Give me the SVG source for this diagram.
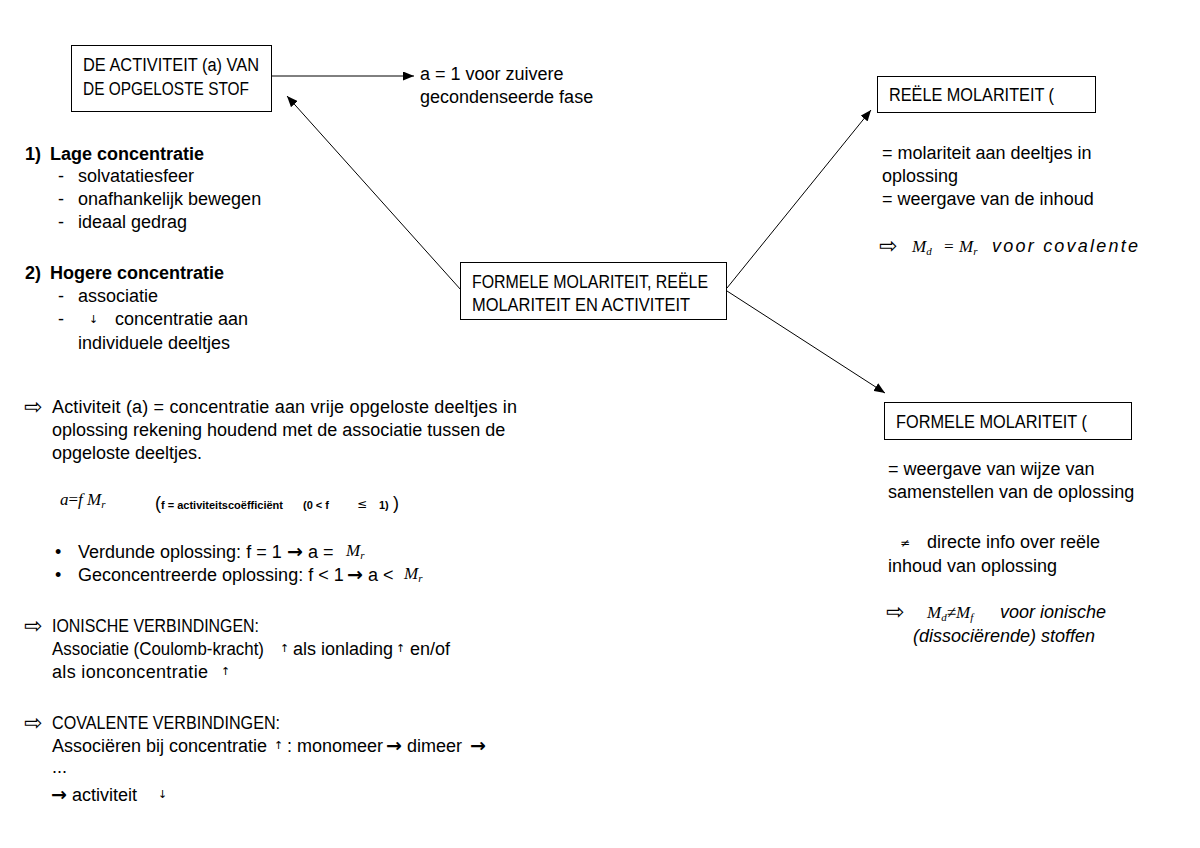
<svg xmlns="http://www.w3.org/2000/svg" width="1200" height="848" viewBox="0 0 1200 848">
<defs>
<style>
.t{font-family:"Liberation Sans",Arial,sans-serif;font-size:18px;fill:#000}
.b{font-weight:bold}
.i{font-style:italic}
.m{font-family:"Liberation Serif","Times New Roman",serif;font-style:italic;font-size:17px;fill:#000}
.sub{font-size:11px}
.s{font-family:"DejaVu Sans",sans-serif;fill:#000}
.dx{font-family:"DejaVu Sans",sans-serif;font-size:22px;fill:#000}
.ar{font-family:"DejaVu Sans",sans-serif;font-weight:bold;font-size:19px;fill:#000}
.sm{font-family:"DejaVu Sans",sans-serif;font-size:11px;fill:#000}
.box{fill:#fff;stroke:#000;stroke-width:1}
.p{font-family:"Liberation Sans",Arial,sans-serif;font-size:11px;font-weight:bold;fill:#000}
</style>
<marker id="ah" markerWidth="11" markerHeight="9" refX="11" refY="4.5" orient="auto" markerUnits="userSpaceOnUse">
<path d="M0,0 L11,4.5 L0,9 z" fill="#000"/>
</marker>
</defs>
<rect width="1200" height="848" fill="#fff"/>

<g id="connectors" stroke="#000" stroke-width="1" fill="none">
<line x1="272" y1="76" x2="414" y2="76" marker-end="url(#ah)"/>
<line x1="461" y1="290" x2="287" y2="96" marker-end="url(#ah)"/>
<line x1="727" y1="288" x2="871" y2="110" marker-end="url(#ah)"/>
<line x1="727" y1="291" x2="885" y2="393" marker-end="url(#ah)"/>
</g>

<g id="node-activiteit">
<rect class="box" x="71.5" y="45.5" width="200" height="66"/>
<text class="t" x="83" y="71" textLength="176" lengthAdjust="spacingAndGlyphs">DE ACTIVITEIT (a) VAN</text>
<text class="t" x="83" y="95" textLength="166" lengthAdjust="spacingAndGlyphs">DE OPGELOSTE STOF</text>
</g>

<g id="node-zuiver">
<text class="t" x="420" y="80">a = 1 voor zuivere</text>
<text class="t" x="420" y="103">gecondenseerde fase</text>
</g>

<g id="node-center">
<rect class="box" x="460.5" y="262.5" width="266" height="57"/>
<text class="t" x="472" y="288" textLength="236" lengthAdjust="spacingAndGlyphs">FORMELE MOLARITEIT, REËLE</text>
<text class="t" x="472" y="311" textLength="218" lengthAdjust="spacingAndGlyphs">MOLARITEIT EN ACTIVITEIT</text>
</g>

<g id="node-reeel">
<rect class="box" x="877.5" y="76.5" width="218" height="36"/>
<text class="t" x="889" y="101" textLength="165" lengthAdjust="spacingAndGlyphs">REËLE MOLARITEIT (</text>
<text class="t" x="882" y="159">= molariteit aan deeltjes in</text>
<text class="t" x="882" y="182">oplossing</text>
<text class="t" x="882" y="205">= weergave van de inhoud</text>
<text class="dx" x="879" y="253">⇨</text>
<text class="m" x="912" y="252">M<tspan class="sub" dy="3">d</tspan></text>
<text class="m" x="943" y="252" font-style="normal">=</text>
<text class="m" x="959" y="252">M<tspan class="sub" dy="3">r</tspan></text>
<text class="t i" x="992" y="252" textLength="146">voor covalente</text>
</g>

<g id="node-formeel">
<rect class="box" x="884.5" y="402.5" width="247" height="37"/>
<text class="t" x="896" y="428" textLength="191" lengthAdjust="spacingAndGlyphs">FORMELE MOLARITEIT (</text>
<text class="t" x="888" y="475">= weergave van wijze van</text>
<text class="t" x="888" y="498">samenstellen van de oplossing</text>
<text class="s" x="900" y="547" font-size="12">≠</text>
<text class="t" x="927" y="548">directe info over reële</text>
<text class="t" x="888" y="572">inhoud van oplossing</text>
<text class="dx" x="886" y="619">⇨</text>
<text class="m" x="927" y="618">M<tspan class="sub" dy="3">d</tspan><tspan dy="-3" font-style="normal">≠</tspan>M<tspan class="sub" dy="3">f</tspan></text>
<text class="t i" x="1000" y="618">voor ionische</text>
<text class="t i" x="913" y="642">(dissociërende) stoffen</text>
</g>

<g id="node-left">
<text class="t b" x="25" y="160">1)</text>
<text class="t b" x="50" y="160">Lage concentratie</text>
<text class="t" x="58" y="182">-</text><text class="t" x="78" y="182">solvatatiesfeer</text>
<text class="t" x="58" y="205">-</text><text class="t" x="78" y="205">onafhankelijk bewegen</text>
<text class="t" x="58" y="228">-</text><text class="t" x="78" y="228">ideaal gedrag</text>
<text class="t b" x="25" y="279">2)</text>
<text class="t b" x="50" y="279">Hogere concentratie</text>
<text class="t" x="58" y="302">-</text><text class="t" x="78" y="302">associatie</text>
<text class="t" x="58" y="325">-</text><text class="sm" x="89" y="323">↓</text><text class="t" x="115" y="325">concentratie aan</text>
<text class="t" x="78" y="349">individuele deeltjes</text>

<text class="dx" x="24" y="414">⇨</text>
<text class="t" x="52" y="413" textLength="465">Activiteit (a) = concentratie aan vrije opgeloste deeltjes in</text>
<text class="t" x="52" y="436">oplossing rekening houdend met de associatie tussen de</text>
<text class="t" x="52" y="459">opgeloste deeltjes.</text>

<text class="m" x="60" y="505">a<tspan font-style="normal">=</tspan>f M<tspan class="sub" dy="3">r</tspan></text>
<text class="t" x="155" y="509" font-size="16">(</text>
<text class="p" x="161" y="509">f = activiteitscoëfficiënt</text>
<text class="p" x="303" y="509">(0 &lt; f</text>
<text class="s" x="357" y="508" font-size="12">≤</text>
<text class="p" x="379" y="509">1)</text>
<text class="t" x="393" y="509" font-size="16">)</text>

<text class="t" x="55" y="558">•</text>
<text class="t" x="78" y="558">Verdunde oplossing: f = 1</text>
<text class="ar" x="287" y="558">→</text>
<text class="t" x="308" y="558">a =</text>
<text class="m" x="346" y="556">M<tspan class="sub" dy="3">r</tspan></text>
<text class="t" x="55" y="581">•</text>
<text class="t" x="78" y="581">Geconcentreerde oplossing: f &lt; 1</text>
<text class="ar" x="347" y="581">→</text>
<text class="t" x="368" y="581">a &lt;</text>
<text class="m" x="404" y="579">M<tspan class="sub" dy="3">r</tspan></text>

<text class="dx" x="24" y="633">⇨</text>
<text class="t" x="52" y="632" textLength="207" lengthAdjust="spacingAndGlyphs">IONISCHE VERBINDINGEN:</text>
<text class="t" x="52" y="655" textLength="212" lengthAdjust="spacingAndGlyphs">Associatie (Coulomb-kracht)</text>
<text class="sm" x="280" y="652">↑</text>
<text class="t" x="293" y="655">als ionlading</text>
<text class="sm" x="396" y="652">↑</text>
<text class="t" x="410" y="655">en/of</text>
<text class="t" x="52" y="678" textLength="156" lengthAdjust="spacing">als ionconcentratie</text>
<text class="sm" x="221" y="675">↑</text>

<text class="dx" x="24" y="730">⇨</text>
<text class="t" x="52" y="729" textLength="228" lengthAdjust="spacingAndGlyphs">COVALENTE VERBINDINGEN:</text>
<text class="t" x="52" y="752">Associëren bij concentratie</text>
<text class="sm" x="274" y="749">↑</text>
<text class="t" x="287" y="752">: monomeer</text>
<text class="ar" x="386" y="752">→</text>
<text class="t" x="407" y="752">dimeer</text>
<text class="ar" x="470" y="752">→</text>
<text class="t" x="52" y="773">...</text>
<text class="ar" x="51" y="801">→</text>
<text class="t" x="72" y="801">activiteit</text>
<text class="sm" x="158" y="798">↓</text>
</g>
</svg>
